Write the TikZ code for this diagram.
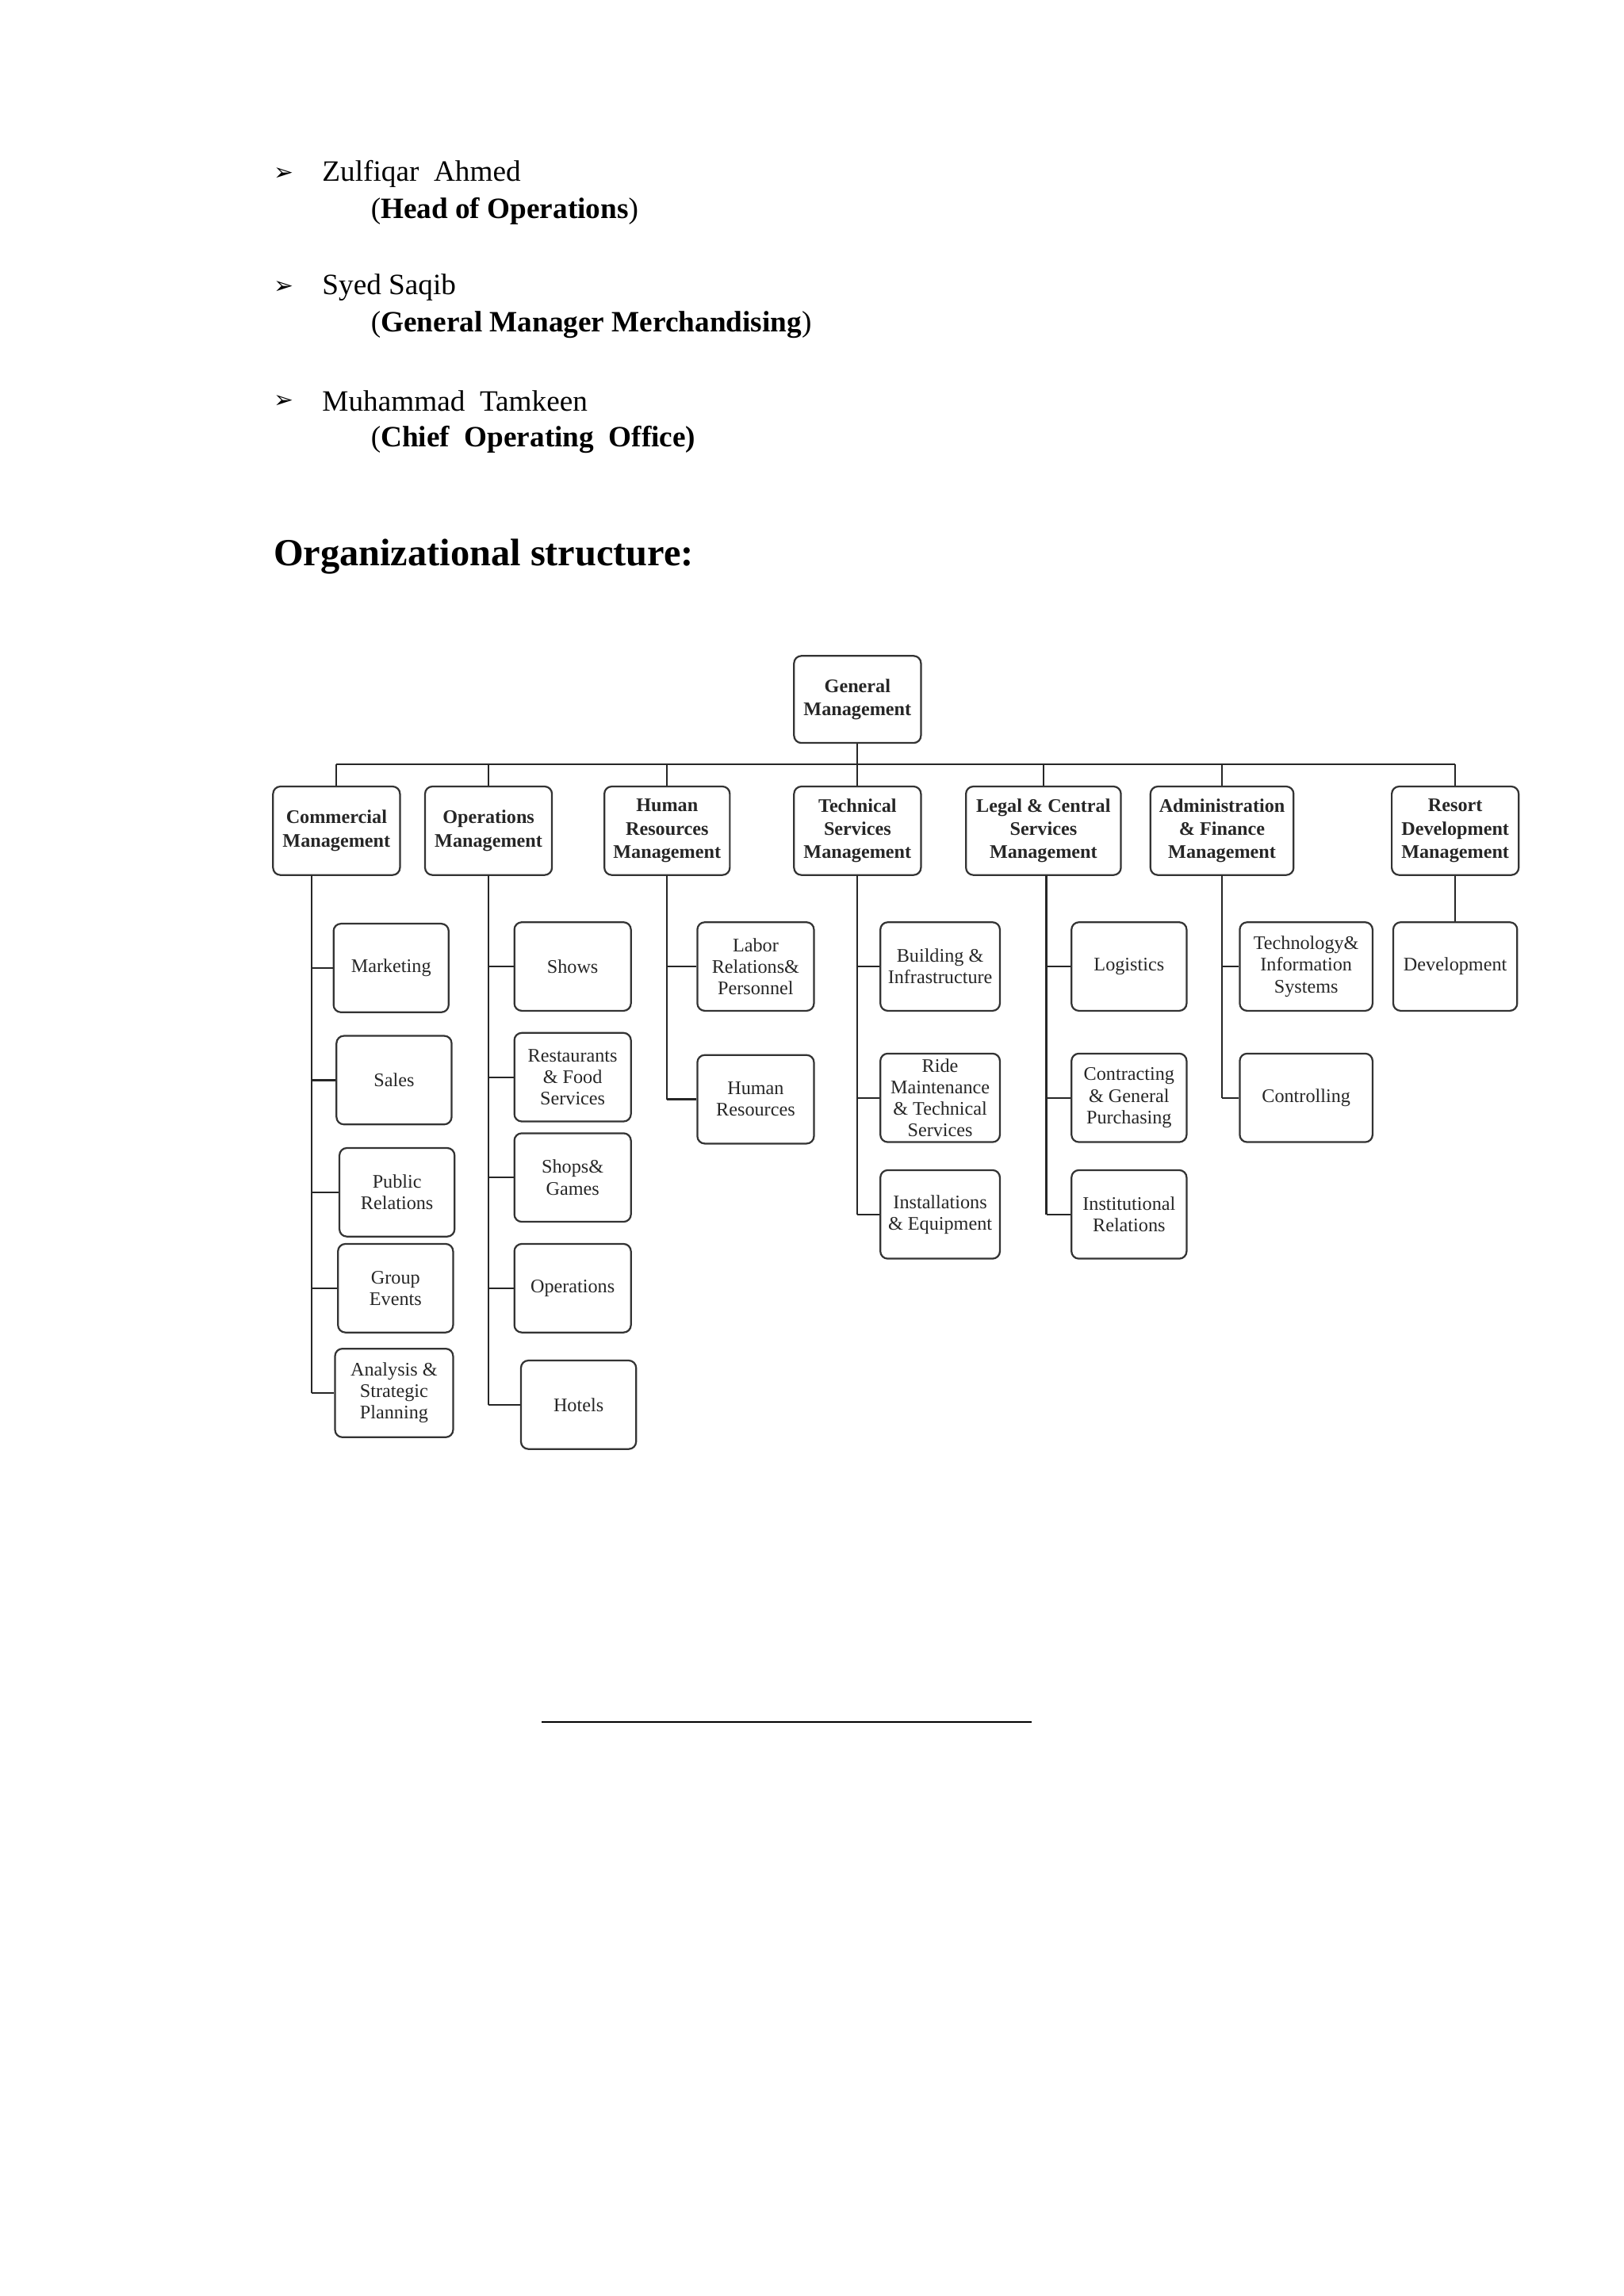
\documentclass[tikz,border=0pt]{standalone}
\usepackage{fontspec}
\setmainfont{Liberation Serif}
\newfontfamily\symf{DejaVu Sans}
\begin{document}
\begin{tikzpicture}[x=0.5pt,y=-0.5pt,
  bx/.style={draw=black!80,line width=0.6pt,rounded corners=2.5pt,align=center,font=\fontsize{6.5}{7.3}\selectfont,inner sep=0.5pt,text=black!85},
  top/.style={bx,font=\bfseries\fontsize{6.5}{7.9}\selectfont},
  ln/.style={draw=black!85,line width=0.6pt},
  txt/.style={anchor=west,inner sep=0,font=\fontsize{10}{12}\selectfont}]
\path[use as bounding box] (0,0) rectangle (1100,1556);
% text list
\foreach \y/\n/\r in {118/{Zulfiqar\ \ Ahmed}/{Head of Operations},195/{Syed Saqib}/{General Manager Merchandising},272/{Muhammad\ \ Tamkeen}/{Chief\ \ Operating\ \ Office)}}{
  \node[txt] (b\y) at (185,\y) {\symf\fontsize{8}{9}\selectfont ➢};
  \node[txt] (n\y) at (218,\y) {\n};
}
\node[txt] (r1) at (251,143) {(\textbf{Head of Operations})};
\node[txt] (r2) at (251,220) {(\textbf{General Manager Merchandising})};
\node[txt] (r3) at (251,298) {(\textbf{Chief\ \ Operating\ \ Office)}};
\node[txt,font=\bfseries\fontsize{13}{15}\selectfont] (hd) at (185,377) {Organizational structure:};
% top
\node[top,minimum width=43pt,minimum height=29.5pt] (gm) at (581,474) {General\\Management};
\foreach \x/\nm/\w/\t in {228/com/43/{Commercial\\Management},331/ops/43/{Operations\\Management},452/hrm/42.5/{Human\\Resources\\Management},581/tec/43/{Technical\\Services\\Management},707/leg/52.5/{Legal \& Central\\Services\\Management},828/adm/48.5/{Administration\\\& Finance\\Management},986/res/43/{Resort\\Development\\Management}}{
  \node[top,minimum width=\w pt,minimum height=30pt] (\nm) at (\x,563) {\t};
}
\coordinate (j) at (581,518);
\draw[ln] (gm.south) -- (j);
\draw[ln] (228,518) -- (986,518);
\foreach \nm in {com,ops,hrm,tec,leg,adm,res}{\draw[ln] (\nm.north) -- (\nm.north |- j);}
% children
\newcommand\kid[6]{% name, spine x, center x, y, width px, text
  \node[bx,minimum width=#5*0.5pt,minimum height=30pt] (#1) at (#3,#4) {#6};
  \draw[ln] (#2,#4) -- (#1.west);}
\kid{c1}{211}{265}{656}{78}{Marketing}
\kid{c2}{211}{267}{732}{78}{Sales}
\kid{c3}{211}{269}{808}{78}{Public\\Relations}
\kid{c4}{211}{268}{873}{78}{Group\\Events}
\kid{c5}{211}{267}{944}{80}{Analysis \&\\Strategic\\Planning}
\draw[ln] (211,593) -- (211,944);
\kid{o1}{331}{388}{655}{79}{Shows}
\kid{o2}{331}{388}{730}{79}{Restaurants\\\& Food\\Services}
\kid{o3}{331}{388}{798}{79}{Shops\&\\Games}
\kid{o4}{331}{388}{873}{79}{Operations}
\kid{o5}{331}{392}{952}{78}{Hotels}
\draw[ln] (331,593) -- (331,952);
\kid{h1}{452}{512}{655}{79}{Labor\\Relations\&\\Personnel}
\kid{h2}{452}{512}{745}{79}{Human\\Resources}
\draw[ln] (452,593) -- (452,745);
\kid{t1}{581}{637}{655}{81}{Building \&\\Infrastructure}
\kid{t2}{581}{637}{744}{81}{Ride\\Maintenance\\\& Technical\\Services}
\kid{t3}{581}{637}{823}{81}{Installations\\\& Equipment}
\draw[ln] (581,593) -- (581,823);
\kid{l1}{709}{765}{655}{78}{Logistics}
\kid{l2}{709}{765}{744}{78}{Contracting\\\& General\\Purchasing}
\kid{l3}{709}{765}{823}{78}{Institutional\\Relations}
\draw[ln] (709,593) -- (709,823);
\kid{a1}{828}{885}{655}{90}{Technology\&\\Information\\Systems}
\kid{a2}{828}{885}{744}{90}{Controlling}
\draw[ln] (828,593) -- (828,744);
\node[bx,minimum width=42pt,minimum height=30pt] (d1) at (986,655) {Development};
\draw[ln] (res.south) -- (d1.north);
% bottom rule
\coordinate (f1) at (367,1167); \coordinate (f2) at (699,1167);
\draw[line width=0.7pt] (f1) -- (f2);
\end{tikzpicture}
\end{document}
